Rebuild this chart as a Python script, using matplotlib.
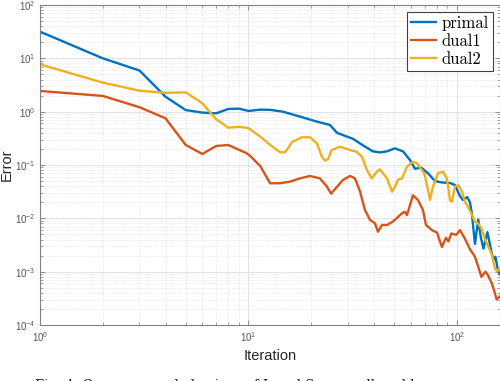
import matplotlib
matplotlib.use("Agg")
import matplotlib.pyplot as plt
import matplotlib.ticker as ticker

# Values (iteration, error)
primal_it = [1, 2, 3, 4, 5, 6, 7, 8, 9, 10, 11.4, 12.7, 14.6, 17.7, 21.3, 24.6, 26.6, 29.7, 31.7, 35,
             39.5, 42.7, 46.2, 50.4, 55.1, 59.5, 62.9, 67.5, 72.6, 78.4, 84.7, 92.6, 97.8, 103.4, 106.9, 112,
             115.4, 118, 122, 126.5, 130, 134, 140, 147, 150, 153, 157, 160]
primal_err = [31.6, 10.0, 5.9, 1.9, 1.07, 0.96, 0.93, 1.12, 1.14, 1.03, 1.09, 1.08, 1.0, 0.805, 0.65, 0.562,
              0.40, 0.34, 0.31, 0.24, 0.18, 0.172, 0.18, 0.205, 0.18, 0.124, 0.085, 0.089, 0.07, 0.05, 0.047,
              0.046, 0.042, 0.026, 0.022, 0.025, 0.02, 0.012, 0.0033, 0.0095, 0.0045, 0.0027, 0.0055, 0.0022,
              0.0017, 0.0019, 0.0011, 0.0009]

dual1_it = [1, 2, 3, 4, 5, 6, 7, 8, 9.8, 10.2, 11.4, 12.7, 14.2, 15.8, 17.7, 19.7, 22, 23.8, 24.9, 26.6,
            28.4, 30.7, 32.4, 34.3, 36.2, 38.3, 40.4, 41.8, 43.7, 46.2, 49.3, 54.5, 56.3, 57.6, 61.5, 65,
            68.7, 71, 75.9, 80.2, 84.7, 88.5, 91, 94, 99.2, 103.4, 109, 115, 122, 126, 131, 137, 141, 147,
            152, 155, 160]
dual1_err = [2.44, 1.97, 1.21, 0.75, 0.237, 0.161, 0.227, 0.237, 0.166, 0.147, 0.095, 0.0454, 0.0454, 0.0487,
             0.0562, 0.0622, 0.0562, 0.0392, 0.029, 0.039, 0.0524, 0.0622, 0.0562, 0.0316, 0.0143, 0.0093,
             0.0081, 0.0056, 0.0075, 0.0075, 0.0087, 0.0124, 0.0133, 0.0115, 0.027, 0.0221, 0.0143, 0.0075,
             0.006, 0.0054, 0.0029, 0.0043, 0.0037, 0.0052, 0.0049, 0.006, 0.0042, 0.0027, 0.0019, 0.0013,
             0.0008, 0.001, 0.00085, 0.0006, 0.0004, 0.0003, 0.00034]

dual2_it = [1, 2, 3, 4, 5, 6, 7, 8, 9, 10, 11.4, 12.7, 14.2, 15, 16.2, 18, 19.7, 21.3, 22.5, 23.3,
            24.1, 25, 27.5, 30.7, 33, 35, 37, 39, 41.3, 42.7, 46.2, 48.8, 50.4, 52.1, 54.5, 57.6, 61.5, 64.3,
            69.6, 73, 74.2, 76.7, 81.1, 85.7, 89.5, 92.6, 94.6, 97.8, 101.5, 105.7, 109.2, 112.9, 117, 122,
            126, 131, 136, 141, 147, 152, 156, 160]
dual2_err = [7.7, 3.5, 2.47, 2.25, 2.3, 1.44, 0.72, 0.5, 0.52, 0.49, 0.34, 0.237, 0.173, 0.173, 0.27, 0.33,
             0.33, 0.255, 0.143, 0.12, 0.128, 0.19, 0.22, 0.19, 0.177, 0.143, 0.0805, 0.056, 0.075, 0.083,
             0.056, 0.0316, 0.039, 0.053, 0.056, 0.093, 0.115, 0.108, 0.07, 0.032, 0.0221, 0.039, 0.07, 0.075,
             0.056, 0.022, 0.0205, 0.039, 0.042, 0.0316, 0.0205, 0.0165, 0.0124, 0.0087, 0.0081, 0.0065,
             0.0042, 0.003, 0.0021, 0.00116, 0.001, 0.00115]

series_names = ["primal", "dual1", "dual2"]
# MATLAB default line colours
series_colors = ["#0072BD", "#D95319", "#EDB120"]

plt.rcParams['font.family'] = ['Liberation Sans', 'DejaVu Sans']
plt.rcParams['mathtext.fontset'] = 'custom'
plt.rcParams['mathtext.rm'] = 'Liberation Sans'
plt.rcParams['mathtext.it'] = 'Liberation Sans:italic'

fig = plt.figure(figsize=(5.0, 3.81), dpi=100)
axs = fig.add_axes([0.08, 0.147, 0.919, 0.84])

axs.plot(primal_it, primal_err, color=series_colors[0], linewidth=1.7, label=series_names[0])
axs.plot(dual1_it, dual1_err, color=series_colors[1], linewidth=1.7, label=series_names[1])
axs.plot(dual2_it, dual2_err, color=series_colors[2], linewidth=1.7, label=series_names[2])

axs.set_xscale('log')
axs.set_yscale('log')
axs.set_xlim(1, 160)
axs.set_ylim(1e-4, 1e2)

# matlab-like grid and box
axs.grid(True, which='major', color='#e3e3e3', linewidth=0.7, linestyle='-')
axs.grid(True, which='minor', color='#d9d9d9', linewidth=0.5, linestyle=':')
axs.set_axisbelow(True)
for sp in axs.spines.values():
    sp.set_color('#808080')
    sp.set_linewidth(0.8)

axs.yaxis.set_major_locator(ticker.LogLocator(base=10, numticks=10))
axs.yaxis.set_minor_locator(ticker.LogLocator(base=10, subs=range(2, 10), numticks=20))
axs.xaxis.set_major_locator(ticker.LogLocator(base=10, numticks=10))
axs.xaxis.set_minor_locator(ticker.LogLocator(base=10, subs=range(2, 10), numticks=20))
axs.yaxis.set_minor_formatter(ticker.NullFormatter())
axs.xaxis.set_minor_formatter(ticker.NullFormatter())

axs.tick_params(which='both', direction='in', top=True, right=True, colors='#808080',
                labelcolor='#555555', labelsize=7)
axs.tick_params(which='major', length=3.5, width=0.6)
axs.tick_params(which='minor', length=2, width=0.5)
axs.tick_params(axis='x', pad=4)

axs.set_xlabel("Iteration", fontsize=10.5, color='#262626', labelpad=3)
axs.set_ylabel("Error", fontsize=10.5, color='#262626')
axs.yaxis.set_label_coords(-0.057, 0.5)

leg = axs.legend(loc='upper right', prop={'family': 'cmr10', 'size': 12},
                 fancybox=False, framealpha=1, edgecolor='#404040',
                 handlelength=1.5, handletextpad=0.3, labelspacing=0.15,
                 borderpad=0.25, borderaxespad=0.4)
leg.get_frame().set_linewidth(0.8)

# caption of the paper figure, only its top shows at the bottom edge
fig.text(0.47, -0.02, "Fig. 4: Convergence behaviour of L and S on small problem",
         fontsize=9.5, family='DejaVu Serif', ha='center', va='baseline', color='#222222')

fig.savefig("out.png", dpi=100)
